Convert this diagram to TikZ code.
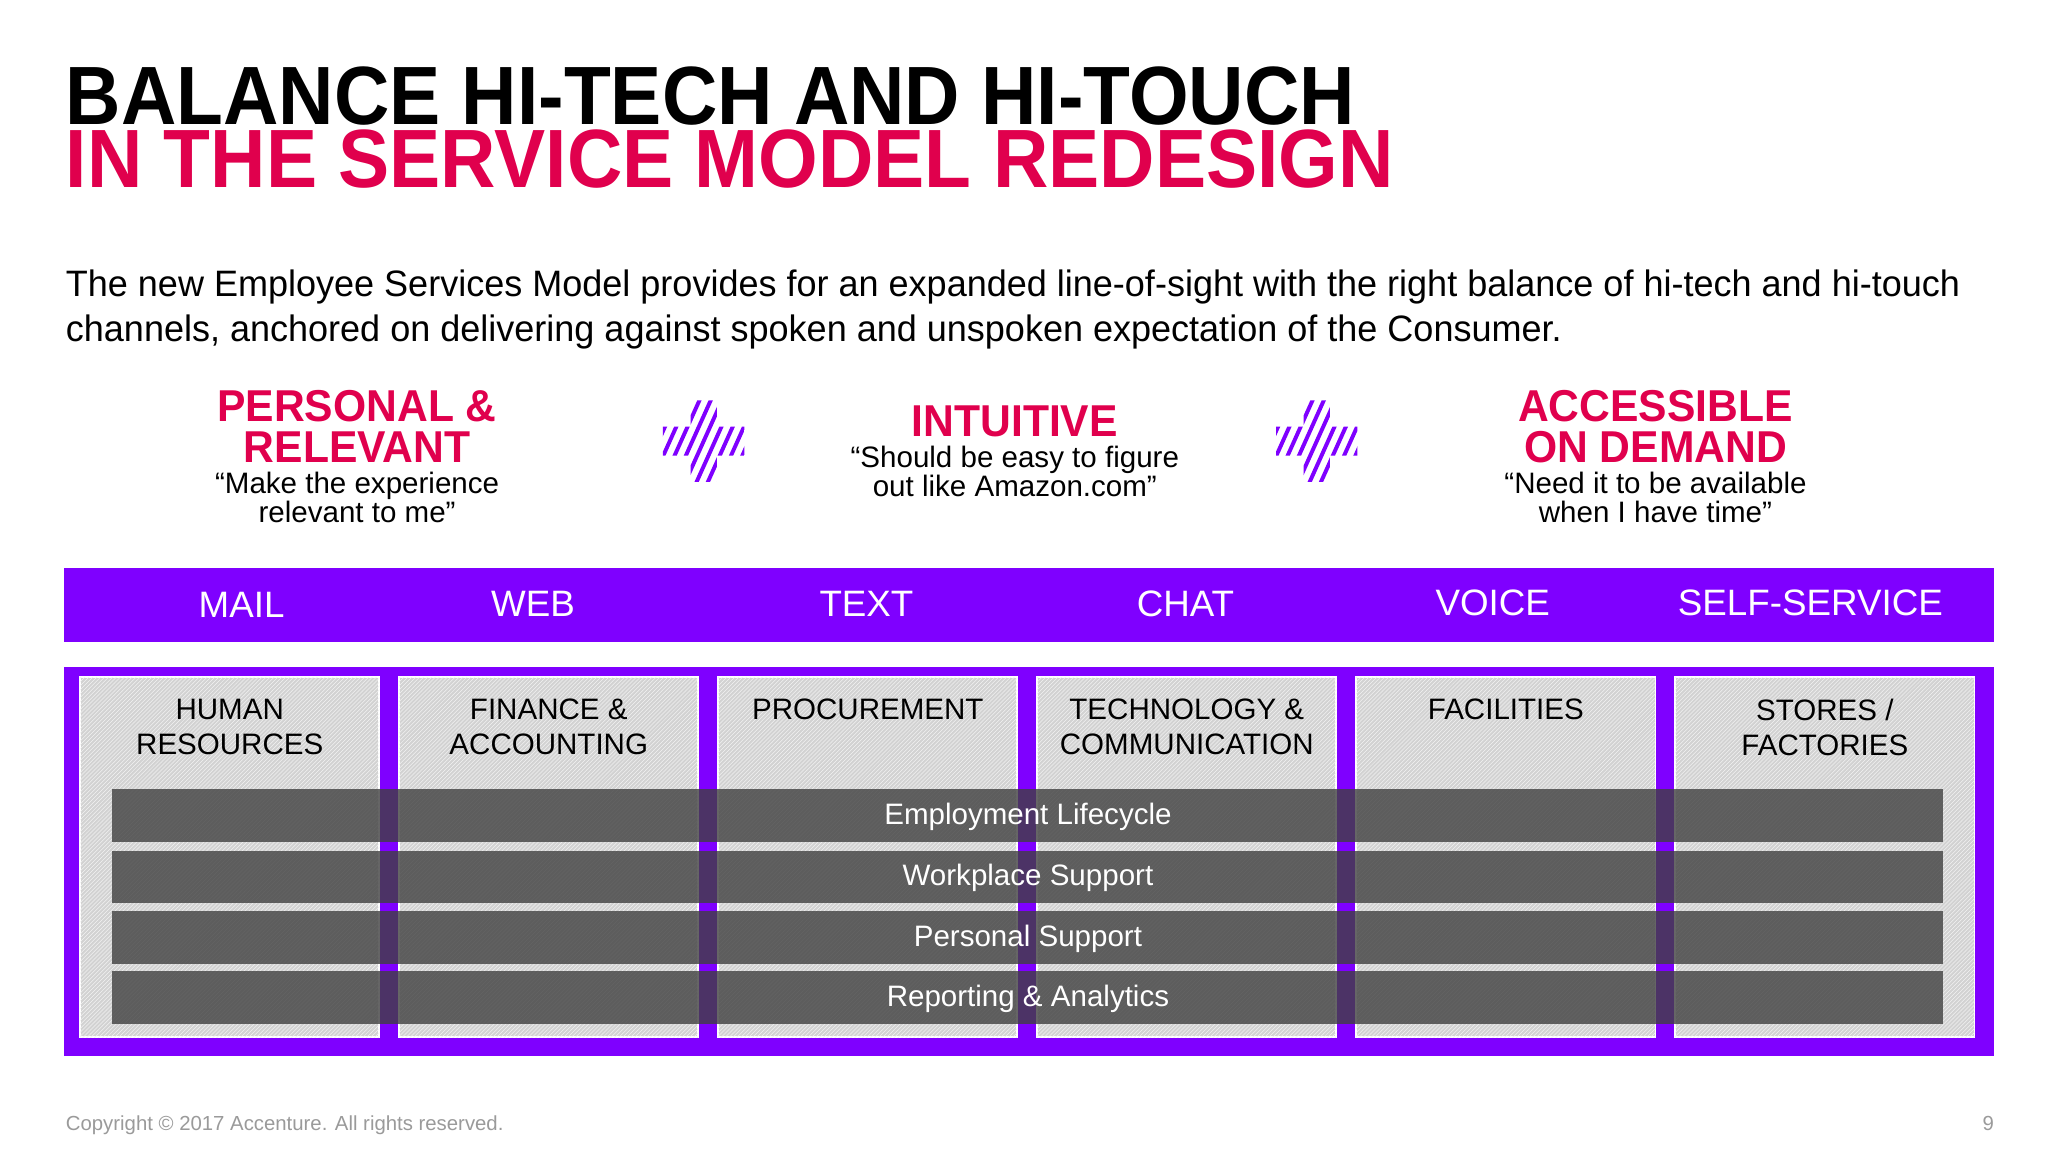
\documentclass[tikz,border=0pt]{standalone}
\usepackage{fontspec}
\setmainfont{Liberation Sans}
\usetikzlibrary{patterns}
\definecolor{acred}{HTML}{E0004D}
\definecolor{acpurple}{HTML}{7F00FF}
\definecolor{colgray}{HTML}{D2D2D2}
\definecolor{footgray}{HTML}{9A9A9A}
\newcommand{\tsq}[1]{\scalebox{0.927}[1]{#1}}
\newcommand{\psq}[1]{\scalebox{0.98}[1]{#1}}
\newcommand{\hsq}[1]{\scalebox{0.955}[1]{#1}}
\begin{document}
\begin{tikzpicture}[x=1pt,y=-1pt,
  title/.style={anchor=base west,inner sep=0,font=\fontsize{63}{63}\bfseries\selectfont},
  para/.style={anchor=base west,inner sep=0,font=\fontsize{28}{28}\selectfont},
  headtxt/.style={align=center,inner sep=0,text=acred,font=\fontsize{34}{31}\bfseries\selectfont},
  quotetxt/.style={align=center,inner sep=0,font=\fontsize{22.5}{22}\selectfont},
  chan/.style={text=white,inner sep=0,font=\fontsize{28}{28}\selectfont},
  coltxt/.style={anchor=north,align=center,inner sep=0,font=\fontsize{22.5}{27}\selectfont},
  bartxt/.style={text=white,inner sep=0,font=\fontsize{22.5}{22}\selectfont},
  colbox/.style={draw=white,line width=1.5pt,fill=colgray,postaction={pattern=north east lines,pattern color=white!70!colgray}},
  darkbar/.style={fill=black!75,opacity=0.8}
]
\useasboundingbox (0,0) rectangle (1560,877.5);
\fill[white] (0,0) rectangle (1560,877.5);
\node[title] (t1) at (50,95) {\tsq{BALANCE HI-TECH AND HI-TOUCH}};
\node[title,text=acred] (t2) at (50,143) {\tsq{IN THE SERVICE MODEL REDESIGN}};
\node[para] (p1) at (50,226) {\psq{The new Employee Services Model provides for an expanded line-of-sight with the right balance of hi-tech and hi-touch}};
\node[para] (p2) at (50,260) {\psq{channels, anchored on delivering against spoken and unspoken expectation of the Consumer.}};
% headers
\node[headtxt] (h1) at (272,325) {\hsq{PERSONAL \&}\\\hsq{RELEVANT}};
\node[quotetxt] (q1) at (272,379) {“Make the experience\\relevant to me”};
\node[headtxt] (h2) at (773,321) {\hsq{INTUITIVE}};
\node[quotetxt] (q2) at (773,359) {“Should be easy to figure\\out like Amazon.com”};
\node[headtxt] (h3) at (1261,325) {\hsq{ACCESSIBLE}\\\hsq{ON DEMAND}};
\node[quotetxt] (q3) at (1261,379) {“Need it to be available\\when I have time”};
% plus signs
\foreach \cx/\nm in {536/pa,1003/pb}{
  \coordinate (\nm) at (\cx,336);
  \begin{scope}
    \clip (\cx-10,305) -- (\cx+10,305) -- (\cx+10,325) -- (\cx+31,325) -- (\cx+31,347) -- (\cx+10,347) -- (\cx+10,367) -- (\cx-10,367) -- (\cx-10,347) -- (\cx-31,347) -- (\cx-31,325) -- (\cx-10,325) -- cycle;
    \foreach \k in {-12,...,12}{
      \draw[acpurple,line width=3pt] (\cx+\k*8.6-18,376) -- (\cx+\k*8.6+18,296);
    }
  \end{scope}
}
% channel bar
\fill[acpurple] (49,433) rectangle (1519,489);
\node[chan] (c1) at (184,461) {MAIL};
\node[chan] (c2) at (406,460) {WEB};
\node[chan] (c3) at (660,460) {TEXT};
\node[chan] (c4) at (903,460) {CHAT};
\node[chan] (c5) at (1137,459) {VOICE};
\node[chan] (c6) at (1379,459) {SELF-SERVICE};
% outer
\fill[acpurple] (49,508) rectangle (1519,804);
\foreach \x/\nm/\txt in {61/d1/{HUMAN\\RESOURCES},304/d2/{FINANCE \&\\ACCOUNTING},547/d3/{PROCUREMENT},790/d4/{TECHNOLOGY \&\\COMMUNICATION},1033/d5/{FACILITIES},1276/d6/{STORES /\\FACTORIES}}{
  \draw[colbox] (\x,516) rectangle (\x+228,790);
  \node[coltxt] (\nm) at (\x+114,532) {\txt};
}
\foreach \y/\nm/\txt in {601/b1/{Employment Lifecycle},648/b2/{Workplace Support},694/b3/{Personal Support},740/b4/{Reporting \& Analytics}}{
  \fill[darkbar] (85,\y) rectangle (1480,\y+40);
  \node[bartxt] (\nm) at (783,\y+21) {\txt};
}
\node[anchor=base west,inner sep=0,text=footgray,font=\fontsize{15.5}{15}\selectfont] (cp) at (50,861) {Copyright © 2017 Accenture. All rights reserved.};
\node[anchor=base east,inner sep=0,text=footgray,font=\fontsize{15.5}{15}\selectfont] (pg) at (1519,861) {9};
\end{tikzpicture}
\end{document}
